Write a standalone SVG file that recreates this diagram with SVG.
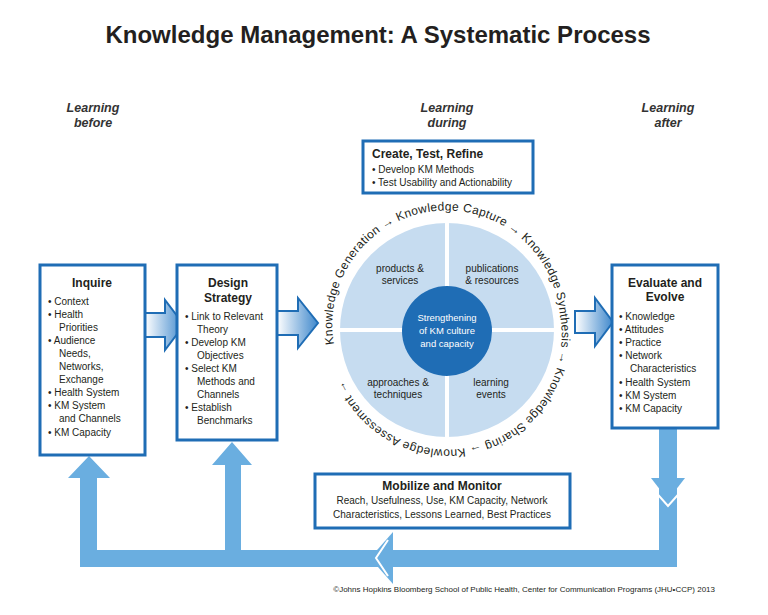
<svg xmlns="http://www.w3.org/2000/svg" width="768" height="615" viewBox="0 0 768 615">
<style>
text{font-family:"Liberation Sans",Arial,sans-serif;fill:#231f20}
.box{fill:#fff;stroke:#1f6db5;stroke-width:3}
.h{font-weight:bold;font-size:12px}
.t{font-size:10px}
.hd{font-weight:bold;font-style:italic;font-size:12.5px;fill:#333}
.q{font-size:10px;text-anchor:middle}
.ring{font-size:12px}
.fb{fill:#6aaee0}
</style>
<defs>
<linearGradient id="g" x1="0" x2="1" y1="0" y2="0"><stop offset="0" stop-color="#fff"/><stop offset="1" stop-color="#3f88cc"/></linearGradient>
<path id="ringp" d="M334,344 A114,114 0 1 1 560,316 A114,114 0 1 1 334,344"/>
</defs>
<text x="378" y="43" text-anchor="middle" style="font-weight:bold;font-size:24px">Knowledge Management: A Systematic Process</text>
<g id="headers">
<text class="hd" x="93" y="112" text-anchor="middle">Learning</text><text class="hd" x="93" y="127" text-anchor="middle">before</text>
<text class="hd" x="447" y="112" text-anchor="middle">Learning</text><text class="hd" x="447" y="127" text-anchor="middle">during</text>
<text class="hd" x="668" y="112" text-anchor="middle">Learning</text><text class="hd" x="668" y="127" text-anchor="middle">after</text>
</g>
<g id="connectors">
<path d="M145,313 H165 V300 L184,325 L165,350 V337 H145 Z" fill="url(#g)" stroke="#1f6db5" stroke-width="2"/>
<path d="M277,311 H298 V298 L318,323 L298,348 V335 H277 Z" fill="url(#g)" stroke="#1f6db5" stroke-width="2"/>
<path d="M575,311 H595 V298 L613,322 L595,346 V333 H575 Z" fill="url(#g)" stroke="#1f6db5" stroke-width="2"/>
<path class="fb" d="M89,456 L110,478 H97 V550 H225 V465 H212 L232,442 L252,465 H241 V550 H659 V428 H677 V567 H80 V478 H68 Z"/>
<path class="fb" d="M651,478 H685 L668,500 Z"/>
<polyline points="652,488 668,506 684,488" fill="none" stroke="#fff" stroke-width="2"/>
<path class="fb" d="M393,532 V584 L370,558 Z"/>
<polyline points="388,540 376,558 388,576" fill="none" stroke="#fff" stroke-width="2"/>
</g>
<g id="create"><rect class="box" x="363" y="141" width="170" height="52"/>
<text class="h" x="372" y="158">Create, Test, Refine</text>
<text class="t" x="372" y="173">•  Develop KM Methods</text>
<text class="t" x="372" y="186">•  Test Usability and Actionability</text></g>
<g id="inquire"><rect class="box" x="40" y="265" width="105" height="190"/>
<text class="h" x="92" y="287" text-anchor="middle">Inquire</text>
<g class="t"><text x="48" y="305">•  Context</text><text x="48" y="318">•  Health</text><text x="59" y="331">Priorities</text>
<text x="48" y="344">•  Audience</text><text x="59" y="357">Needs,</text><text x="59" y="370">Networks,</text><text x="59" y="383">Exchange</text>
<text x="48" y="396">•  Health System</text><text x="48" y="409">•  KM System</text><text x="59" y="422">and Channels</text><text x="48" y="436">•  KM Capacity</text></g></g>
<g id="design"><rect class="box" x="177" y="265" width="100" height="175"/>
<text class="h" x="228" y="287" text-anchor="middle">Design</text><text class="h" x="228" y="302" text-anchor="middle">Strategy</text>
<g class="t"><text x="185" y="320">•  Link to Relevant</text><text x="197" y="333">Theory</text><text x="185" y="346">•  Develop KM</text><text x="197" y="359">Objectives</text>
<text x="185" y="372">•  Select KM</text><text x="197" y="385">Methods and</text><text x="197" y="398">Channels</text><text x="185" y="411">•  Establish</text><text x="197" y="424">Benchmarks</text></g></g>
<g id="circle">
<circle cx="447" cy="330" r="107" fill="#c6dcf0"/>
<path d="M447,222 V438 M339,330 H555" stroke="#fff" stroke-width="4"/>
<circle cx="447" cy="331" r="45" fill="#1f6db5"/>
<text class="q" x="400" y="272">products &amp;</text><text class="q" x="400" y="284">services</text>
<text class="q" x="492" y="272">publications</text><text class="q" x="492" y="284">&amp; resources</text>
<text class="q" x="398" y="386">approaches &amp;</text><text class="q" x="398" y="398">techniques</text>
<text class="q" x="491" y="386">learning</text><text class="q" x="491" y="398">events</text>
<text class="q" x="447" y="321" style="fill:#fff;font-size:9.5px">Strengthening</text>
<text class="q" x="447" y="334" style="fill:#fff;font-size:9.5px">of KM culture</text>
<text class="q" x="447" y="347" style="fill:#fff;font-size:9.5px">and capacity</text>
<text class="ring"><textPath href="#ringp" textLength="700" lengthAdjust="spacing">Knowledge Generation → Knowledge Capture → Knowledge Synthesis → Knowledge Sharing → Knowledge Assessment →</textPath></text>
</g>
<g id="evaluate"><rect class="box" x="612" y="265" width="106" height="163"/>
<text class="h" x="665" y="287" text-anchor="middle">Evaluate and</text><text class="h" x="665" y="301" text-anchor="middle">Evolve</text>
<g class="t"><text x="619" y="320">•  Knowledge</text><text x="619" y="333">•  Attitudes</text><text x="619" y="346">•  Practice</text><text x="619" y="359">•  Network</text><text x="630" y="372">Characteristics</text>
<text x="619" y="386">•  Health System</text><text x="619" y="399">•  KM System</text><text x="619" y="412">•  KM Capacity</text></g></g>
<g id="mobilize"><rect class="box" x="315" y="474" width="255" height="54"/>
<text class="h" x="442" y="490" text-anchor="middle">Mobilize and Monitor</text>
<text class="t" x="442" y="504" text-anchor="middle">Reach, Usefulness, Use, KM Capacity, Network</text>
<text class="t" x="442" y="518" text-anchor="middle">Characteristics, Lessons Learned, Best Practices</text></g>
<text x="715" y="592" text-anchor="end" style="font-size:8px">©Johns Hopkins Bloomberg School of Public Health, Center for Communication Programs (JHU•CCP) 2013</text>
</svg>
